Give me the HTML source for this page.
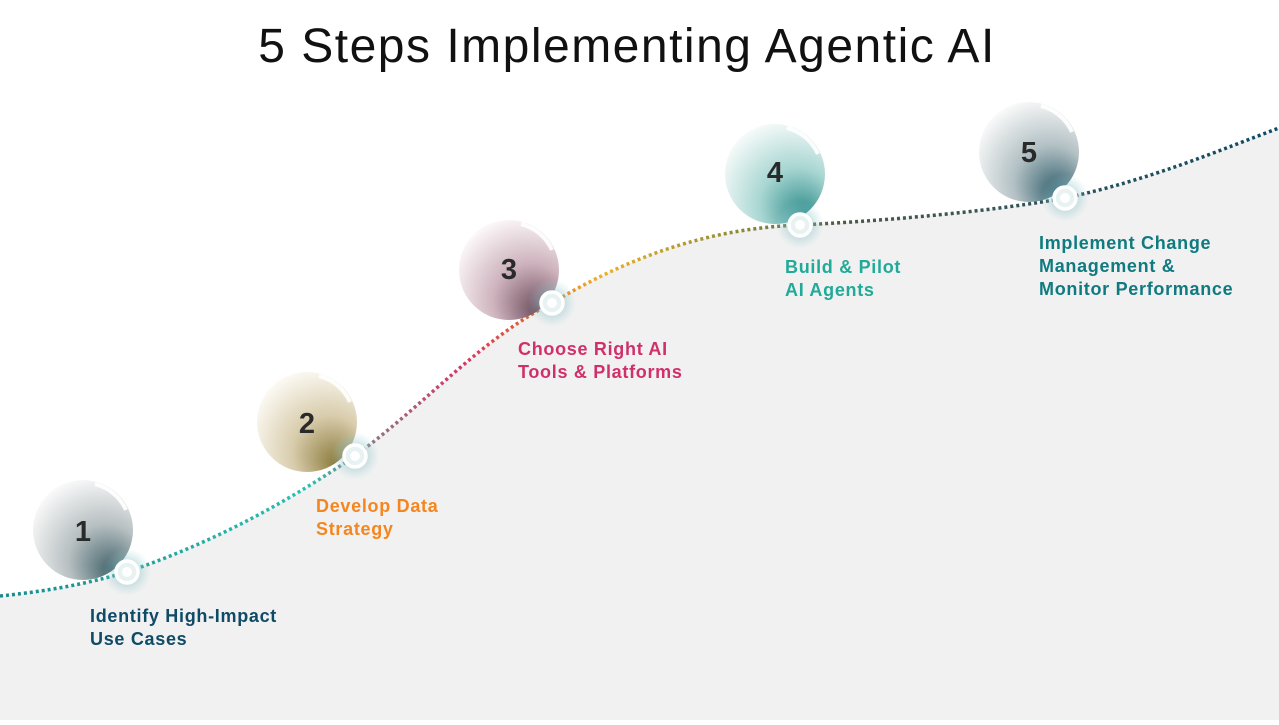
<!DOCTYPE html>
<html><head><meta charset="utf-8"><style>
body{margin:0;width:1279px;height:720px;overflow:hidden;background:#fff;font-family:"Liberation Sans",sans-serif}
</style></head><body>
<svg width="1279" height="720" viewBox="0 0 1279 720" xmlns="http://www.w3.org/2000/svg">
<defs>
<linearGradient id="ln" gradientUnits="userSpaceOnUse" x1="0" y1="0" x2="1279" y2="0">
<stop offset="0" stop-color="#1a8a8e"/>
<stop offset="0.24" stop-color="#2bbfb0"/>
<stop offset="0.29" stop-color="#8a7a80"/>
<stop offset="0.36" stop-color="#d8336a"/>
<stop offset="0.42" stop-color="#e06a2a"/>
<stop offset="0.47" stop-color="#f0b020"/>
<stop offset="0.58" stop-color="#8a8a3a"/>
<stop offset="0.66" stop-color="#4a5a4a"/>
<stop offset="1" stop-color="#0d4a66"/>
</linearGradient>
<radialGradient id="g1" cx="0.65" cy="0.7" r="0.75" fx="0.8" fy="0.92"><stop offset="0" stop-color="#3d6068"/><stop offset="0.5" stop-color="#b8c0c2"/><stop offset="1" stop-color="#fafafa"/></radialGradient>
<radialGradient id="g2" cx="0.65" cy="0.7" r="0.75" fx="0.8" fy="0.92"><stop offset="0" stop-color="#8a7a3a"/><stop offset="0.5" stop-color="#d8ccac"/><stop offset="1" stop-color="#fcfaf4"/></radialGradient>
<radialGradient id="g3" cx="0.65" cy="0.7" r="0.75" fx="0.8" fy="0.92"><stop offset="0" stop-color="#6a4a5a"/><stop offset="0.5" stop-color="#cdb2bc"/><stop offset="1" stop-color="#fcf8fa"/></radialGradient>
<radialGradient id="g4" cx="0.65" cy="0.7" r="0.75" fx="0.8" fy="0.92"><stop offset="0" stop-color="#2a8a88"/><stop offset="0.5" stop-color="#a8d6d2"/><stop offset="1" stop-color="#f6fbfa"/></radialGradient>
<radialGradient id="g5" cx="0.65" cy="0.7" r="0.75" fx="0.8" fy="0.92"><stop offset="0" stop-color="#2a5a68"/><stop offset="0.5" stop-color="#b2c0c4"/><stop offset="1" stop-color="#fafafa"/></radialGradient>
<radialGradient id="gl"><stop offset="0" stop-color="#6fb0b8" stop-opacity="0.8"/><stop offset="1" stop-color="#9fd0d4" stop-opacity="0"/></radialGradient>
<g id="node"><circle r="24" fill="url(#gl)"/><circle r="11" fill="#e8f2f2" stroke="#fff" stroke-width="3.5"/><circle r="5" fill="#fff"/></g>
</defs>
<path d="M0,596 C60,590 100,580 127,572 C220,540 290,500 355,456 C430,400 480,340 552,303 C640,250 720,228 800,225 C900,220 1000,210 1065,198 C1150,180 1220,150 1279,128 L1279,720 L0,720 Z" fill="#f1f1f1"/>
<path d="M0,596 C60,590 100,580 127,572 C220,540 290,500 355,456 C430,400 480,340 552,303 C640,250 720,228 800,225 C900,220 1000,210 1065,198 C1150,180 1220,150 1279,128" fill="none" stroke="url(#ln)" stroke-width="3.5" stroke-dasharray="3 3"/>
<text x="627" y="62" text-anchor="middle" font-size="48" letter-spacing="1.5" fill="#111">5 Steps Implementing Agentic AI</text>
<g font-weight="bold" font-size="29" fill="#2a2a2a" text-anchor="middle">
<circle cx="83" cy="530" r="50" fill="url(#g1)"/><path d="M95,484 A46,46 0 0 1 126,510" stroke="#fff" stroke-width="4" fill="none" opacity="0.9"/><text x="83" y="541">1</text>
<circle cx="307" cy="422" r="50" fill="url(#g2)"/><path d="M319,376 A46,46 0 0 1 350,402" stroke="#fff" stroke-width="4" fill="none" opacity="0.9"/><text x="307" y="433">2</text>
<circle cx="509" cy="270" r="50" fill="url(#g3)"/><path d="M521,224 A46,46 0 0 1 552,250" stroke="#fff" stroke-width="4" fill="none" opacity="0.9"/><text x="509" y="279">3</text>
<circle cx="775" cy="174" r="50" fill="url(#g4)"/><path d="M787,128 A46,46 0 0 1 818,154" stroke="#fff" stroke-width="4" fill="none" opacity="0.9"/><text x="775" y="182">4</text>
<circle cx="1029" cy="152" r="50" fill="url(#g5)"/><path d="M1041,106 A46,46 0 0 1 1072,132" stroke="#fff" stroke-width="4" fill="none" opacity="0.9"/><text x="1029" y="162">5</text>
</g>
<use href="#node" x="127" y="572"/>
<use href="#node" x="355" y="456"/>
<use href="#node" x="552" y="303"/>
<use href="#node" x="800" y="225"/>
<use href="#node" x="1065" y="198"/>
<g font-weight="bold" font-size="18" letter-spacing="0.7">
<text fill="#0f4a66"><tspan x="90" y="622">Identify High-Impact</tspan><tspan x="90" y="645">Use Cases</tspan></text>
<text fill="#f5861f"><tspan x="316" y="512">Develop Data</tspan><tspan x="316" y="535">Strategy</tspan></text>
<text fill="#d0306a"><tspan x="518" y="355">Choose Right AI</tspan><tspan x="518" y="378">Tools &amp; Platforms</tspan></text>
<text fill="#22aa98"><tspan x="785" y="273">Build &amp; Pilot</tspan><tspan x="785" y="296">AI Agents</tspan></text>
<text fill="#0f7a80"><tspan x="1039" y="249">Implement Change</tspan><tspan x="1039" y="272">Management &amp;</tspan><tspan x="1039" y="295">Monitor Performance</tspan></text>
</g>
</svg>
</body></html>
